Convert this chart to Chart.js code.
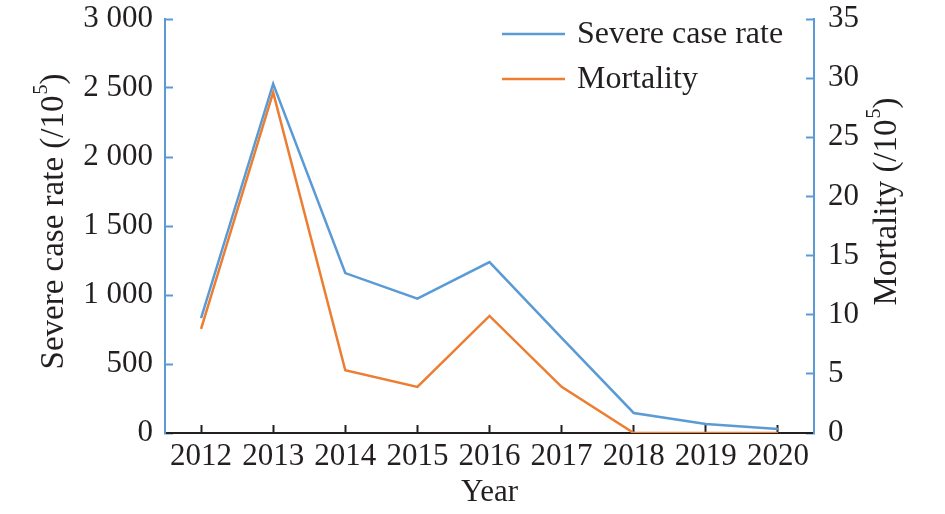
<!DOCTYPE html>
<html>
<head>
<meta charset="utf-8">
<script src="https://cdn.jsdelivr.net/npm/chart.js@4.4.1/dist/chart.umd.min.js"></script>
<style>
  html, body { margin: 0; padding: 0; background: #ffffff; }
  #wrap { width: 945px; height: 514px; }
</style>
</head>
<body>
<div id="wrap"><canvas id="c" width="945" height="514"></canvas></div>
<script>
// ---- data ----
const years = ['2012', '2013', '2014', '2015', '2016', '2017', '2018', '2019', '2020'];
const severeRate = [833, 2531, 1159, 973, 1239, 690, 145, 65, 29];
const mortality = [8.8, 28.8, 5.3, 3.9, 9.9, 3.9, 0, 0, 0];
const rateTickLabels = ['0', '500', '1 000', '1 500', '2 000', '2 500', '3 000'];
const mortTickLabels = ['0', '5', '10', '15', '20', '25', '30', '35'];
const seriesNames = ['Severe case rate', 'Mortality'];
const xTitle = 'Year';
const leftTitle = ['Severe case rate (/10', '5', ')'];
const rightTitle = ['Mortality (/10', '5', ')'];

// ---- styles ----
const BLUE = '#5b9bd5';
const ORANGE = '#ed7d31';
const TEXT = '#231f20';
const FAMILY = "'Liberation Serif', 'DejaVu Serif', serif";
const TICK_SIZE = 31;

function drawSupTitle(ctx, parts, cx, cy, size) {
  ctx.save();
  ctx.translate(cx, cy);
  ctx.rotate(-Math.PI / 2);
  ctx.fillStyle = TEXT;
  ctx.textBaseline = 'middle';
  ctx.textAlign = 'left';
  const main = size + 'px ' + FAMILY;
  const sup = Math.round(size * 0.6) + 'px ' + FAMILY;
  ctx.font = main; const w0 = ctx.measureText(parts[0]).width;
  const w2 = ctx.measureText(parts[2]).width;
  ctx.font = sup; const w1 = ctx.measureText(parts[1]).width;
  let x = -(w0 + w1 + w2) / 2;
  ctx.font = main; ctx.fillText(parts[0], x, 0); x += w0;
  ctx.font = sup; ctx.fillText(parts[1], x + 1, -size * 0.36); x += w1 + 1;
  ctx.font = main; ctx.fillText(parts[2], x, 0);
  ctx.restore();
}

const extras = {
  id: 'extras',
  afterDraw(chart) {
    const ctx = chart.ctx;
    // axis titles
    drawSupTitle(ctx, leftTitle, 54, 222, 33);
    drawSupTitle(ctx, rightTitle, 887, 202, 33);
    // legend
    const items = chart.data.datasets;
    const ys = [34, 79];
    ctx.save();
    items.forEach((ds, i) => {
      ctx.strokeStyle = ds.borderColor;
      ctx.lineWidth = 2.5;
      ctx.beginPath();
      ctx.moveTo(502, ys[i]);
      ctx.lineTo(565, ys[i]);
      ctx.stroke();
      ctx.fillStyle = TEXT;
      ctx.font = '32px ' + FAMILY;
      ctx.textBaseline = 'middle';
      ctx.textAlign = 'left';
      ctx.fillText(ds.label, 577, ys[i] + 1);
    });
    ctx.restore();
  }
};

function fixY(width) {
  return function (s) { s.width = width; s.paddingTop = 19; s.paddingBottom = 0; };
}

new Chart(document.getElementById('c'), {
  type: 'line',
  data: {
    labels: years,
    datasets: [
      { label: seriesNames[0], data: severeRate, yAxisID: 'yL', borderColor: BLUE, backgroundColor: BLUE,
        borderWidth: 2.5, pointRadius: 0, tension: 0, fill: false },
      { label: seriesNames[1], data: mortality, yAxisID: 'yR', borderColor: ORANGE, backgroundColor: ORANGE,
        borderWidth: 2.5, pointRadius: 0, tension: 0, fill: false }
    ]
  },
  options: {
    responsive: false,
    animation: false,
    devicePixelRatio: 1,
    layout: { padding: 0 },
    plugins: { legend: { display: false }, tooltip: { enabled: false }, title: { display: false } },
    scales: {
      x: {
        type: 'category',
        offset: true,
        z: 1,
        grid: { drawOnChartArea: false, offset: false, tickLength: -8, tickColor: TEXT, tickWidth: 2 },
        border: { display: true, color: TEXT, width: 2 },
        ticks: { color: TEXT, font: { family: FAMILY, size: TICK_SIZE }, padding: 13, maxRotation: 0, autoSkip: false },
        title: { display: true, text: xTitle, color: TEXT, font: { family: FAMILY, size: 31 }, padding: { top: 0, bottom: 3 } },
        afterFit(s) { s.height = 81; s.paddingLeft = 0; s.paddingRight = 0; }
      },
      yL: {
        type: 'linear',
        position: 'left',
        min: 0, max: 3000,
        grid: { drawOnChartArea: false, tickLength: -8, tickColor: BLUE, tickWidth: 2 },
        border: { display: true, color: BLUE, width: 2 },
        ticks: { stepSize: 500, color: TEXT, font: { family: FAMILY, size: TICK_SIZE }, padding: 20,
          callback: (v, i) => rateTickLabels[i] },
        afterFit: fixY(165)
      },
      yR: {
        type: 'linear',
        position: 'right',
        min: 0, max: 35,
        grid: { drawOnChartArea: false, tickLength: -8, tickColor: BLUE, tickWidth: 2 },
        border: { display: true, color: BLUE, width: 2 },
        ticks: { stepSize: 5, color: TEXT, font: { family: FAMILY, size: TICK_SIZE }, padding: 22,
          callback: (v, i) => mortTickLabels[i] },
        afterFit: fixY(131)
      }
    }
  },
  plugins: [extras]
});
</script>
</body>
</html>
